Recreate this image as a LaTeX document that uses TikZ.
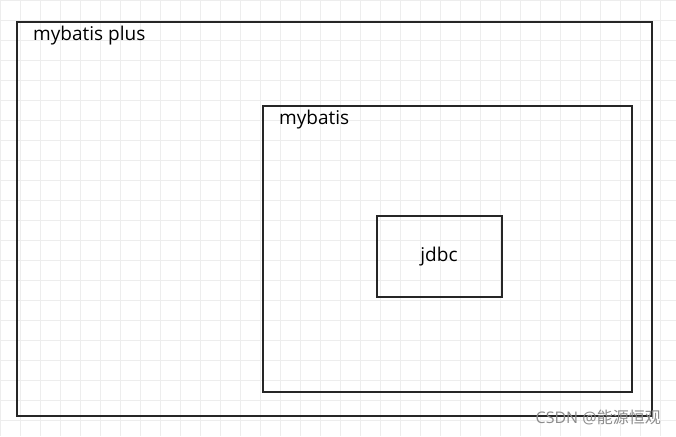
\documentclass[tikz,border=0pt]{standalone}
\usepackage{fontspec}
\setmainfont{Open Sans}
\newfontfamily\cjk{Noto Sans CJK SC}
\begin{document}
\begin{tikzpicture}[x=1pt,y=-1pt,
  box/.style={draw=black!85,line width=1.6pt},
  lbl/.style={font=\fontsize{19}{22}\selectfont,inner sep=0pt}]
\useasboundingbox (0,0) rectangle (676,436);
\foreach \i in {0,...,34} \draw[black!7,line width=0.6pt] (\i*20,0) -- (\i*20,436);
\foreach \j in {0,...,22} \draw[black!7,line width=0.6pt] (0,\j*20) -- (676,\j*20);
\draw[box] (17,22) rectangle (652,416);
\draw[box] (263,106) rectangle (632,392);
\draw[box] (377,216) rectangle (502,297);
\node[lbl,anchor=west] (l1) at (33,36) {mybatis plus};
\node[lbl,anchor=west] (l2) at (279,120) {mybatis};
\node[lbl] (l3) at (439,257) {jdbc};
\node[inner sep=0pt,text=black!45,font=\fontsize{16}{18}\selectfont,anchor=east] (wm) at (661,417) {CSDN @{\cjk 能源恒观}};
\end{tikzpicture}
\end{document}
